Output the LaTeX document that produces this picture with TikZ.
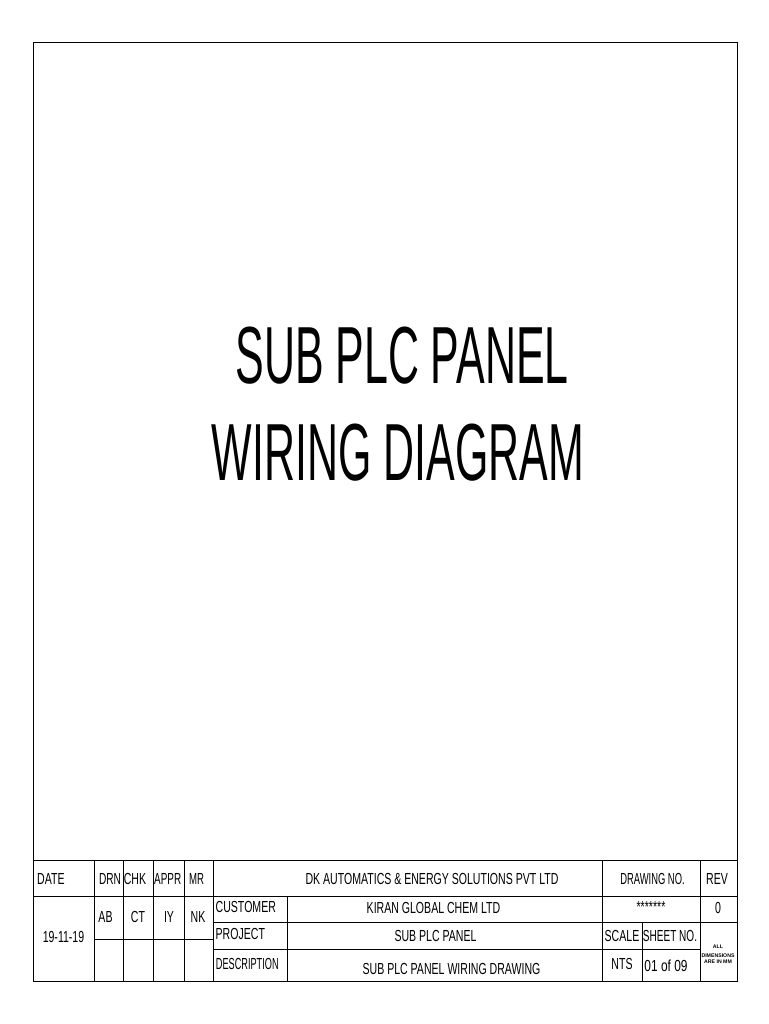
\documentclass[tikz,border=0pt]{standalone}
\usepackage{fontspec}
\usepackage{graphicx}
\setmainfont{Liberation Sans}[FakeStretch=0.66]
\newfontfamily\titlefont{Liberation Sans}[FakeStretch=0.53]
\newfontfamily\notefont{Liberation Sans}
\usepackage{tikz}

\newcommand{\squeeze}[2]{\scalebox{#1}[1]{#2}}

\tikzset{
  txt/.style={inner sep=0pt, anchor=base, font=\fontsize{16}{16}\selectfont},
  txtl/.style={txt, anchor=base west},
  note/.style={inner sep=0pt, anchor=base, font=\notefont\bfseries\fontsize{5.2}{5.2}\selectfont},
  frame/.style={line width=1pt},
}

\begin{document}
\begin{tikzpicture}[x=1pt,y=-1pt]
    \fill[white] (0,0) rectangle (768,1024);
    \useasboundingbox (0,0) rectangle (768,1024);
    % sheet border
    \draw[frame] (33,43) rectangle (737,981);
    \draw[frame] (33,860) -- (737,860);
    % title
    \node[inner sep=0pt, anchor=base, font=\titlefont\fontsize{81}{81}\selectfont] (title1) at (402,383) {SUB PLC PANEL};
    \node[inner sep=0pt, anchor=base, font=\titlefont\fontsize{81}{81}\selectfont] (title2) at (398,480) {WIRING DIAGRAM};
    % title block rows
    \draw (33,896) -- (737,896);
    \draw (213,922) -- (737,922);
    \draw (213,949) -- (700,949);
    \draw (94,939) -- (213,939);
    % title block columns
    \draw (94,860) -- (94,981);
    \draw (123,860) -- (123,981);
    \draw (153,860) -- (153,981);
    \draw (184,860) -- (184,981);
    \draw (213,860) -- (213,981);
    \draw (287,896) -- (287,981);
    \draw (602,860) -- (602,981);
    \draw (642,922) -- (642,981);
    \draw (700,860) -- (700,981);
    % header row
    \node[txtl] (date) at (37,884) {DATE};
    \node[txt] (drn) at (110,884) {\squeeze{0.96}{DRN}};
    \node[txt] (chk) at (135,884) {CHK};
    \node[txt] (appr) at (167.7,884) {\squeeze{0.94}{APPR}};
    \node[txt] (mr) at (196.5,884) {\squeeze{0.91}{MR}};
    \node[txt] (company) at (432,884) {DK AUTOMATICS \& ENERGY SOLUTIONS PVT LTD};
    \node[txt] (dwgno) at (652.5,884) {\squeeze{0.89}{DRAWING NO.}};
    \node[txt] (rev) at (717,884) {REV};
    % signatures
    \node[txt] (dateval) at (63.5,942) {19-11-19};
    \node[txt] (drnval) at (105.5,922) {AB};
    \node[txt] (chkval) at (138,922) {CT};
    \node[txt] (apprval) at (169,922) {IY};
    \node[txt] (mrval) at (198,922) {NK};
    % customer / project / description
    \node[txtl] (customer) at (215.5,912) {CUSTOMER};
    \node[txt] (customerval) at (433.5,913) {KIRAN GLOBAL CHEM LTD};
    \node[txtl] (project) at (215.5,939) {PROJECT};
    \node[txt] (projectval) at (435.5,941) {SUB PLC PANEL};
    \node[txtl] (descr) at (215.7,969) {\squeeze{0.87}{DESCRIPTION}};
    \node[txt] (descrval) at (451.5,974) {SUB PLC PANEL WIRING DRAWING};
    % drawing data
    \node[txt] (dwgnoval) at (651,912) {*******};
    \node[txt] (revval) at (718,913) {0};
    \node[txt] (scale) at (622,941) {SCALE};
    \node[txt] (sheet) at (670,941) {\squeeze{0.95}{SHEET NO.}};
    \node[txt] (scaleval) at (622,969) {NTS};
    \node[txt] (sheetval) at (666,971) {\squeeze{1.13}{01 of 09}};
    \node[note] (dim1) at (718,948) {ALL};
    \node[note] (dim2) at (718,957.5) {DIMENSIONS};
    \node[note] (dim3) at (718,963.5) {ARE IN MM};
\end{tikzpicture}
\end{document}
